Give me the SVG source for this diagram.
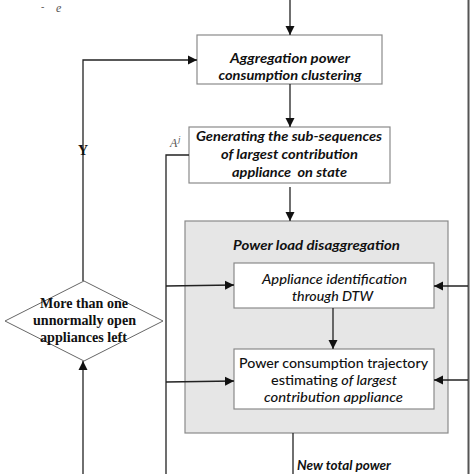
<svg xmlns="http://www.w3.org/2000/svg" width="474" height="474" viewBox="0 0 474 474">
<defs>
<marker id="ah" markerWidth="10" markerHeight="10" refX="9" refY="5" orient="auto" markerUnits="userSpaceOnUse">
<path d="M0,0.5 L9,5 L0,9.5 Z" fill="#111"/>
</marker>
<style>
.box{fill:#fff;stroke:#8a8a8a;stroke-width:1.2}
.grp{fill:#e6e6e6;stroke:#8a8a8a;stroke-width:1.2}
.c{fill:none;stroke:#222;stroke-width:1.3}
.t{font-family:Lato,"Open Sans",sans-serif;font-size:13.5px;fill:#111;text-anchor:middle}
.bi{font-weight:bold;font-style:italic}
.i{font-style:italic;font-weight:500}
.d{font-family:"Liberation Serif","Times New Roman",serif;font-weight:bold;font-size:14px;fill:#111;text-anchor:middle}
.s{font-family:"Liberation Serif","Times New Roman",serif;fill:#555}
</style>
</defs>
<rect width="474" height="474" fill="#fff"/>
<text class="s" x="41" y="10" font-size="10">-</text>
<text class="s" x="56" y="12" font-size="12" font-style="italic">e</text>
<g id="aggregation">
<rect class="box" x="197" y="35" width="185" height="49"/>
<text class="t bi" x="290" y="63" textLength="120" lengthAdjust="spacingAndGlyphs">Aggregation power</text>
<text class="t bi" x="290" y="80" textLength="143" lengthAdjust="spacingAndGlyphs">consumption clustering</text>
</g>
<g id="generating">
<rect class="box" x="189" y="127" width="201" height="56"/>
<text class="t bi" x="289" y="141" textLength="186" lengthAdjust="spacingAndGlyphs">Generating the sub-sequences</text>
<text class="t bi" x="289.5" y="159" textLength="137" lengthAdjust="spacingAndGlyphs">of largest contribution</text>
<text class="t bi" x="289.5" y="177" textLength="115" lengthAdjust="spacingAndGlyphs" xml:space="preserve">appliance  on state</text>
</g>
<g id="disaggregation">
<rect class="grp" x="185" y="221" width="263" height="212"/>
<text class="t bi" x="316.5" y="250" textLength="167" lengthAdjust="spacingAndGlyphs">Power load disaggregation</text>
</g>
<g id="identification">
<rect class="box" x="234" y="263" width="200" height="45"/>
<text class="t i" x="334.5" y="284" textLength="145" lengthAdjust="spacingAndGlyphs">Appliance identification</text>
<text class="t i" x="332.5" y="301" textLength="81" lengthAdjust="spacingAndGlyphs">through DTW</text>
</g>
<g id="trajectory">
<rect class="box" x="234" y="349" width="200" height="60"/>
<text class="t" x="333.5" y="368" font-weight="500" textLength="189" lengthAdjust="spacingAndGlyphs">Power consumption trajectory</text>
<text class="t" x="334" y="385" font-weight="500" textLength="126" lengthAdjust="spacingAndGlyphs">estimating <tspan font-style="italic">of largest</tspan></text>
<text class="t i" x="333.5" y="402" textLength="139" lengthAdjust="spacingAndGlyphs">contribution appliance</text>
</g>
<g id="decision">
<polygon points="84,281 163,321 84,361 5,321" fill="#fff" stroke="#666" stroke-width="1"/>
<text class="d" x="84" y="308" textLength="88" lengthAdjust="spacingAndGlyphs">More than one</text>
<text class="d" x="84.5" y="325" textLength="103" lengthAdjust="spacingAndGlyphs">unnormally open</text>
<text class="d" x="83.5" y="342" textLength="87" lengthAdjust="spacingAndGlyphs">appliances left</text>
</g>
<g id="connectors">
<line class="c" x1="290" y1="0" x2="290" y2="35" marker-end="url(#ah)"/>
<line class="c" x1="290" y1="84" x2="290" y2="127" marker-end="url(#ah)"/>
<line class="c" x1="290" y1="187" x2="290" y2="221" marker-end="url(#ah)"/>
<line class="c" x1="333" y1="308" x2="333" y2="349" marker-end="url(#ah)"/>
<polyline class="c" points="83,281 83,60 197,60" marker-end="url(#ah)"/>
<line class="c" x1="83" y1="474" x2="83" y2="361" marker-end="url(#ah)"/>
<polyline class="c" points="189,155 166,155 166,474"/>
<line class="c" x1="166" y1="286" x2="234" y2="285" marker-end="url(#ah)"/>
<line class="c" x1="166" y1="382" x2="234" y2="381" marker-end="url(#ah)"/>
<line x1="468.5" y1="0" x2="468.5" y2="474" stroke="#555" stroke-width="2"/>
<line class="c" x1="468" y1="286" x2="434" y2="286" marker-end="url(#ah)"/>
<line class="c" x1="468" y1="380" x2="434" y2="380" marker-end="url(#ah)"/>
<line class="c" x1="293" y1="433" x2="293" y2="474"/>
<text class="d" x="83" y="155" font-size="12">Y</text>
<text class="s" x="170" y="147" font-size="12" font-style="italic">A</text>
<text class="s" x="178" y="142" font-size="9" font-style="italic">j</text>
<text class="t bi" x="297" y="470" style="text-anchor:start">New total power</text>
</g>
</svg>
